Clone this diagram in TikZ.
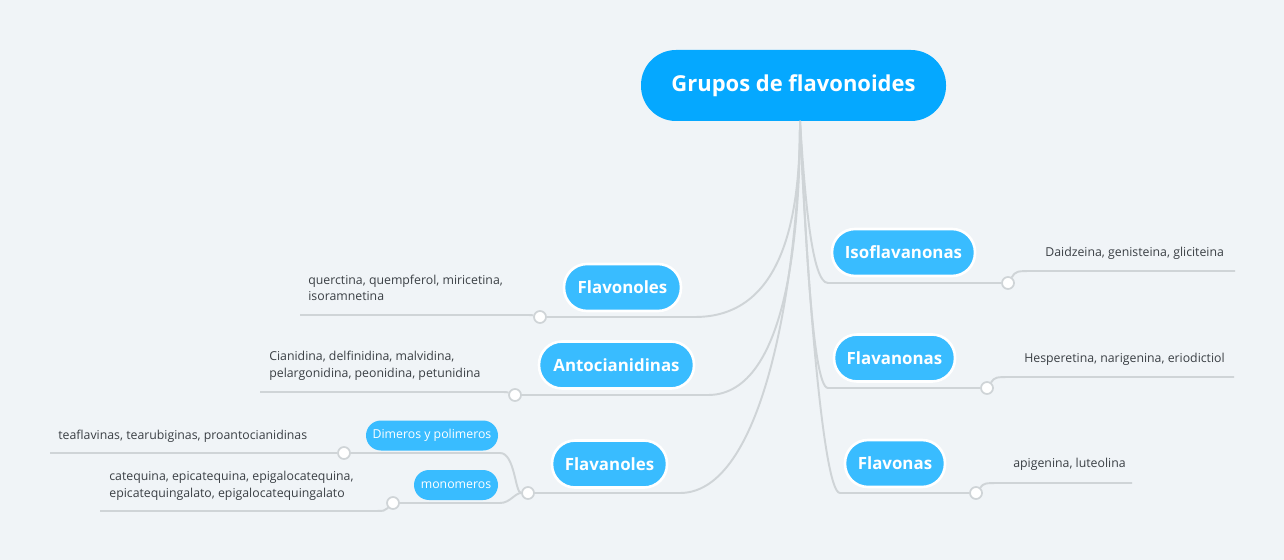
\documentclass[tikz,border=0pt]{standalone}
\usepackage{fontspec}
\setmainfont{Open Sans}
\definecolor{bg}{HTML}{F0F4F7}
\definecolor{rootc}{HTML}{05A8FF}
\definecolor{childc}{HTML}{39BCFF}
\definecolor{linec}{HTML}{CFD4D7}
\definecolor{txt}{HTML}{3A3F44}
\begin{document}
\begin{tikzpicture}[x=0.02cm,y=-0.02cm,
  rootbox/.style={fill=rootc,text=white,rounded corners=0.7cm,minimum width=305*0.02cm,minimum height=71*0.02cm,font=\bfseries\fontsize{12.5}{14}\selectfont,inner sep=0},
  childbox/.style={fill=childc,draw=white,line width=1.5pt,text=white,rounded corners=0.46cm,minimum height=47*0.02cm,font=\bfseries\fontsize{9.6}{11}\selectfont,inner sep=0},
  pill/.style={fill=childc,text=white,rounded corners=0.3cm,minimum height=30*0.02cm,font=\fontsize{7}{8}\selectfont,inner sep=0},
  leaf/.style={text=txt,font=\fontsize{7}{9.5}\selectfont,align=left,inner sep=0,anchor=west},
  conn/.style={draw=linec,line width=1.1pt},
  dot/.style={circle,draw=linec,fill=white,line width=1pt,minimum size=12*0.02cm,inner sep=0}]
\fill[bg] (0,0) rectangle (1284,560);
\node[rootbox] (root) at (793.5,85.5) {Grupos de flavonoides};
\coordinate (r) at (800,121);
% left children
\node[childbox,minimum width=117*0.02cm] (fl) at (622.5,287.5) {Flavonoles};
\node[childbox,minimum width=155*0.02cm] (an) at (616.5,365) {Antocianidinas};
\node[childbox,minimum width=115*0.02cm] (fa) at (609.5,464) {Flavanoles};
% right children
\node[childbox,minimum width=143*0.02cm] (is) at (903.5,252.5) {Isoflavanonas};
\node[childbox,minimum width=121*0.02cm] (fn) at (894.5,358) {Flavanonas};
\node[childbox,minimum width=100*0.02cm] (fo) at (895,463.5) {Flavonas};
% dots
\node[dot] (dfl) at (540,317) {};
\node[dot] (dan) at (515,395) {};
\node[dot] (dfa) at (528,493) {};
\node[dot] (dis) at (1008,283) {};
\node[dot] (dfn) at (987,388) {};
\node[dot] (dfo) at (976,493) {};
\node[dot] (ddi) at (344,453) {};
\node[dot] (dmo) at (393,503) {};
% pills
\node[pill,minimum width=132*0.02cm] (di) at (432,435.5) {Dimeros y polimeros};
\node[pill,minimum width=84*0.02cm] (mo) at (456,485) {monomeros};
% coordinates
\coordinate (efl) at (695,317); \coordinate (ean) at (708,395); \coordinate (efa) at (680,493);
\coordinate (eis) at (828,283); \coordinate (efn) at (828,388); \coordinate (efo) at (840,493);
% root connectors
\draw[conn] (r) .. controls (800,200) and (790,317) .. (efl) -- (dfl);
\draw[conn] (r) .. controls (800,220) and (790,395) .. (ean) -- (dan);
\draw[conn] (r) .. controls (800,250) and (770,493) .. (efa) -- (dfa);
\draw[conn] (r) .. controls (805,200) and (812,283) .. (eis) -- (dis);
\draw[conn] (r) .. controls (805,220) and (812,388) .. (efn) -- (dfn);
\draw[conn] (r) .. controls (805,250) and (822,493) .. (efo) -- (dfo);
% right leaves
\coordinate (lis) at (1235,271); \coordinate (lfn) at (1234,377); \coordinate (lfo) at (1132,483);
\draw[conn] (dis) .. controls (1016,271) .. (1035,271) -- (lis);
\draw[conn] (dfn) .. controls (995,377) .. (1014,377) -- (lfn);
\draw[conn] (dfo) .. controls (984,483) .. (1003,483) -- (lfo);
\node[leaf] (tis) at (1045,253) {Daidzeina, genisteina, gliciteina};
\node[leaf] (tfn) at (1024,359) {Hesperetina, narigenina, eriodictiol};
\node[leaf] (tfo) at (1013,464) {apigenina, luteolina};
% left leaves
\coordinate (lfl) at (300,315); \coordinate (lan) at (260,392);
\draw[conn] (dfl) .. controls (532,315) .. (515,315) -- (lfl);
\draw[conn] (dan) .. controls (507,392) .. (495,392) -- (lan);
\node[leaf] (tfl) at (308,288) {querctina, quempferol, miricetina,\\isoramnetina};
\node[leaf] (tan) at (269,366) {Cianidina, delfinidina, malvidina,\\pelargonidina, peonidina, petunidina};
% flavanoles subtree
\coordinate (udi) at (500,453); \coordinate (umo) at (500,503);
\draw[conn] (dfa) .. controls (515,493) and (515,453) .. (udi) -- (ddi);
\draw[conn] (dfa) .. controls (515,493) and (510,503) .. (umo) -- (dmo);
\coordinate (ldi) at (50,453); \coordinate (lmo) at (100,511);
\draw[conn] (ddi) -- (ldi);
\draw[conn] (dmo) .. controls (385,511) .. (370,511) -- (lmo);
\node[leaf] (tdi) at (58,436) {teaflavinas, tearubiginas, proantocianidinas};
\node[leaf] (tmo) at (109,486) {catequina, epicatequina, epigalocatequina,\\epicatequingalato, epigalocatequingalato};
\end{tikzpicture}
\end{document}
